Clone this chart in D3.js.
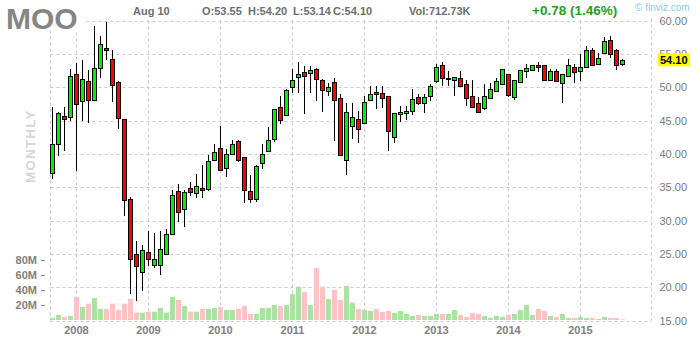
<!DOCTYPE html>
<html>
<head>
<meta charset="utf-8">
<script src="https://cdn.jsdelivr.net/npm/d3@7"></script>
<style>
  body { margin: 0; background: #fff; }
  svg { display: block; font-family: Arial, "Liberation Sans", sans-serif; }
</style>
</head>
<body>
<svg id="chart" width="700" height="340"></svg>
<script>
// ---------------- data (monthly, Sep 2007 .. Aug 2015) ----------------
var months = d3.utcMonth.range(new Date(Date.UTC(2007, 8, 1)), new Date(Date.UTC(2015, 8, 1)));

var open = [37.2, 41.55, 45.75, 45.55, 52.0, 47.95, 50.95, 48.1, 52.9, 55.9,
  54.25, 50.8, 45.25, 33.25, 25.0, 22.3, 25.35, 23.35, 23.35, 25.0,
  28.0, 34.45, 31.75, 34.9, 34.15, 34.9, 34.75, 39.15, 40.9, 37.9,
  40.0, 41.95, 39.5, 34.4, 33.25, 38.65, 40.5, 42.25, 47.0, 45.9,
  50.0, 51.5, 52.25, 52.15, 52.75, 51.1, 49.4, 50.8, 48.4, 39.1,
  44.2, 45.2, 44.65, 48.1, 49.3, 49.15, 48.75, 42.55, 46.05, 46.15,
  46.4, 48.6, 47.65, 48.75, 50.9, 53.35, 51.3, 51.1, 51.4, 50.5,
  48.7, 47.65, 46.9, 48.4, 49.45, 50.5, 52.0, 48.6, 50.8, 52.5,
  52.6, 53.4, 53.35, 51.1, 52.45, 50.6, 51.7, 53.05, 52.45, 53.05,
  55.5, 53.5, 55.15, 57.15, 55.5, 53.55];
var high = [46.95, 46.35, 47.0, 52.75, 53.65, 54.0, 52.65, 59.25, 57.75, 59.7,
  55.6, 50.85, 45.3, 33.5, 26.85, 26.35, 28.5, 28.2, 28.4, 28.75,
  34.6, 35.4, 34.6, 35.85, 37.05, 38.4, 39.85, 41.5, 44.1, 40.8,
  42.1, 42.1, 39.5, 36.9, 38.4, 41.5, 44.0, 46.75, 48.75, 49.8,
  52.75, 53.75, 53.25, 53.25, 52.9, 51.25, 50.65, 51.4, 49.0, 47.65,
  47.65, 46.5, 48.75, 50.15, 50.15, 50.25, 48.75, 46.2, 47.1, 47.1,
  49.65, 49.0, 49.0, 50.5, 53.5, 53.75, 52.5, 51.55, 52.5, 51.0,
  51.0, 48.5, 50.5, 50.65, 51.35, 52.75, 52.0, 51.1, 52.6, 53.5,
  53.35, 53.75, 53.35, 52.75, 52.75, 51.95, 54.25, 53.5, 55.0, 56.25,
  55.9, 55.15, 57.6, 57.75, 55.75, 54.2];
var low = [36.3, 39.75, 40.5, 45.0, 37.5, 45.0, 44.6, 48.0, 51.35, 54.1,
  47.75, 43.75, 30.65, 19.0, 18.0, 19.5, 23.25, 22.85, 21.9, 25.0,
  28.0, 29.75, 29.0, 33.65, 33.35, 33.35, 34.4, 39.0, 37.6, 36.6,
  39.9, 38.75, 32.6, 32.6, 32.75, 37.75, 40.25, 41.75, 44.5, 45.9,
  49.15, 49.15, 46.0, 49.15, 48.0, 46.25, 48.75, 41.9, 39.85, 36.75,
  42.25, 41.6, 44.65, 48.0, 46.75, 46.85, 40.4, 41.6, 44.75, 45.15,
  45.9, 47.4, 46.15, 48.0, 50.65, 50.15, 50.15, 48.75, 50.15, 47.25,
  47.0, 46.35, 46.6, 48.4, 49.45, 50.5, 48.5, 48.1, 50.8, 51.35,
  52.6, 52.25, 51.1, 50.9, 50.75, 47.65, 51.5, 50.6, 50.9, 53.05,
  53.25, 53.5, 55.15, 54.4, 52.6, 53.14];
var close = [41.55, 46.2, 45.25, 51.7, 47.5, 51.25, 48.1, 52.9, 56.5, 55.6,
  50.35, 45.4, 33.1, 24.25, 23.2, 25.5, 24.25, 24.25, 25.75, 28.0,
  33.75, 31.3, 34.3, 34.3, 35.2, 34.6, 39.0, 40.35, 37.6, 40.0,
  41.5, 39.1, 34.6, 33.25, 38.2, 40.0, 42.1, 46.75, 45.1, 49.6,
  51.1, 52.0, 51.65, 52.6, 51.25, 49.6, 50.05, 48.1, 39.85, 46.3,
  45.5, 43.75, 47.75, 49.0, 49.0, 48.4, 43.5, 46.2, 46.35, 46.5,
  48.25, 47.65, 48.6, 50.1, 53.1, 51.4, 51.4, 51.55, 50.15, 48.4,
  47.0, 46.35, 48.7, 49.75, 50.95, 52.75, 48.85, 51.1, 52.6, 52.9,
  53.35, 53.05, 51.1, 52.45, 50.95, 51.95, 53.35, 52.3, 53.05, 55.5,
  53.4, 54.4, 56.85, 55.0, 53.35, 54.1];
// volume in millions of shares
var volume = [3.1, 6.7, 4.4, 5.3, 30.7, 17.3, 21.8, 29.3, 14.7, 14.7,
  21.8, 13.3, 21.8, 28, 9.8, 9.8, 11.1, 11.1, 16, 9.8,
  30.7, 26.7, 18.7, 11.1, 11.1, 14.7, 14.7, 16, 17.3, 13.3,
  13.3, 14.7, 18.7, 8, 8, 16, 16, 20, 18.7, 20,
  34.7, 44.4, 37.3, 20, 69.3, 44.4, 28, 40, 26.7, 45.3,
  23.1, 14.7, 13.3, 12, 14.7, 10.7, 12, 9.3, 12, 8,
  5.3, 6.7, 5.3, 5.3, 8, 8, 8, 13.3, 6.7, 4,
  9.3, 8, 5.3, 2.7, 5.3, 4, 6.7, 8, 13.3, 20,
  6.7, 14.7, 12, 5.3, 4, 8, 2.7, 2.7, 4, 2.7,
  2.7, 1.3, 4, 2.7, 2.7, 0.71];

var priceTicks = [15, 20, 25, 30, 35, 40, 45, 50, 55, 60];
var volumeTicks = [20, 40, 60, 80];
var yearLabels = ["2008", "2009", "2010", "2011", "2012", "2013", "2014", "2015"];

var ticker = "MOO";
var lastDate = "Aug 10";
var lastQuote = {O: "53.55", H: "54.20", L: "53.14", C: "54.10"};
var lastVol = "712.73K";
var lastChange = "+0.78 (1.46%)";

var candles = months.map(function(m, i) {
  return {date: m, o: open[i], h: high[i], l: low[i], c: close[i], v: volume[i]};
});

// ---------------- layout ----------------
var svg = d3.select("#chart");
var plotLeft = 50.5, plotRight = 651.5, plotTop = 20.5, plotBottom = 320.5;
var gridColor = "#c8c8c8";

var x = d3.scaleBand()
  .domain(months.map(function(m) { return +m; }))
  .range([49.5, 625.5])
  .padding(0);
function cx(d) { return x(+d) + x.bandwidth() / 2; }

var y = d3.scaleLinear().domain([15, 60]).range([plotBottom, plotTop]);
var yVol = d3.scaleLinear().domain([0, 80]).range([320, 260]);

// ---------------- grid ----------------
var grid = svg.append("g").attr("class", "grid");

grid.selectAll("line.h")
  .data(priceTicks)
  .enter().append("line")
    .attr("class", "h")
    .attr("x1", plotLeft).attr("x2", plotRight)
    .attr("y1", function(d) { return Math.round(y(d)) + 0.5; })
    .attr("y2", function(d) { return Math.round(y(d)) + 0.5; })
    .style("stroke", gridColor)
    .style("stroke-dasharray", "3,3");

var januaries = yearLabels.map(function(yr) { return new Date(Date.UTC(+yr, 0, 1)); });

grid.selectAll("line.v")
  .data(januaries)
  .enter().append("line")
    .attr("class", "v")
    .attr("x1", cx).attr("x2", cx)
    .attr("y1", plotTop).attr("y2", plotBottom)
    .style("stroke", gridColor)
    .style("stroke-dasharray", "3,3");

[plotLeft, plotRight].forEach(function(xx) {
  grid.append("line")
    .attr("x1", xx).attr("x2", xx)
    .attr("y1", plotTop - 2).attr("y2", plotBottom)
    .style("stroke", gridColor)
    .style("stroke-dasharray", "3,3");
});

// ---------------- volume bars ----------------
svg.append("g").selectAll("rect")
  .data(candles)
  .enter().append("rect")
    .attr("x", function(d) { return cx(d.date) - 2.5; })
    .attr("width", 5)
    .attr("y", function(d) { return yVol(d.v); })
    .attr("height", function(d) { return yVol(0) - yVol(d.v); })
    .style("fill", function(d) { return d.c >= d.o ? "#aae2a2" : "#ffc2c2"; });

// ---------------- candles ----------------
var cg = svg.append("g").attr("class", "candles");

cg.selectAll("line")
  .data(candles)
  .enter().append("line")
    .attr("x1", function(d) { return cx(d.date); })
    .attr("x2", function(d) { return cx(d.date); })
    .attr("y1", function(d) { return Math.round(y(d.h)); })
    .attr("y2", function(d) { return Math.round(y(d.l)); })
    .style("stroke", "#000")
    .style("stroke-width", 1);

cg.selectAll("rect")
  .data(candles)
  .enter().append("rect")
    .attr("x", function(d) { return cx(d.date) - 2; })
    .attr("width", 4)
    .attr("y", function(d) { return Math.round(y(Math.max(d.o, d.c))) + 0.5; })
    .attr("height", function(d) {
      return Math.max(1, Math.round(y(Math.min(d.o, d.c))) - Math.round(y(Math.max(d.o, d.c))));
    })
    .style("fill", function(d) { return d.c >= d.o ? "#00ee00" : "#ff0000"; })
    .style("stroke", "#000")
    .style("stroke-width", 1);

// ---------------- axes ----------------
var priceAxis = svg.append("g")
  .attr("transform", "translate(" + plotRight + ",0)")
  .call(d3.axisRight(y).tickValues(priceTicks).tickFormat(d3.format(".2f")).tickSize(0).tickPadding(8));
priceAxis.select(".domain").remove();
priceAxis.selectAll("text")
  .style("font-size", "11px")
  .style("font-family", "Arial, 'Liberation Sans', sans-serif")
  .style("fill", "#7a7a7a");

var volAxis = svg.append("g")
  .attr("transform", "translate(45,0)")
  .call(d3.axisLeft(yVol).tickValues(volumeTicks).tickFormat(function(d) { return d + "M"; }).tickSize(4).tickPadding(4));
volAxis.select(".domain").remove();
volAxis.selectAll("line").style("stroke", "#888");
volAxis.selectAll("text")
  .style("font-size", "11px")
  .style("font-weight", "bold")
  .style("font-family", "Arial, 'Liberation Sans', sans-serif")
  .style("fill", "#808080");

svg.append("g").selectAll("text")
  .data(januaries)
  .enter().append("text")
    .attr("x", cx)
    .attr("y", 334)
    .attr("text-anchor", "middle")
    .style("font-size", "11px")
    .style("font-weight", "bold")
    .style("fill", "#808080")
    .text(function(d, i) { return yearLabels[i]; });

// last price tag
var lastY = y(close[close.length - 1]);
svg.append("rect")
  .attr("x", 658).attr("y", lastY - 6.5)
  .attr("width", 32).attr("height", 13)
  .style("fill", "#ffff00");
svg.append("text")
  .attr("x", 660).attr("y", lastY + 4)
  .style("font-size", "11px")
  .style("font-weight", "bold")
  .style("fill", "#000")
  .text(d3.format(".2f")(close[close.length - 1]));

// ---------------- header ----------------
svg.append("rect")
  .attr("x", 0).attr("y", 0).attr("width", 86).attr("height", 30)
  .style("fill", "#fff");

svg.append("text")
  .attr("x", 6).attr("y", 28.5)
  .style("font-size", "30px")
  .style("font-weight", "bold")
  .style("fill", "#858585")
  .text(ticker);

function headerText(xx, txt) {
  svg.append("text")
    .attr("x", xx).attr("y", 15)
    .style("font-size", "11px")
    .style("font-weight", "bold")
    .style("fill", "#6e6e6e")
    .text(txt);
}
headerText(133, lastDate);
headerText(202, "O:" + lastQuote.O);
headerText(248, "H:" + lastQuote.H);
headerText(293, "L:" + lastQuote.L);
headerText(333, "C:" + lastQuote.C);
headerText(409, "Vol:" + lastVol);

svg.append("text")
  .attr("x", 532).attr("y", 15)
  .style("font-size", "13.5px")
  .style("font-weight", "bold")
  .style("fill", "#1f9e1f")
  .text(lastChange);

svg.append("text")
  .attr("x", 635).attr("y", 11)
  .style("font-size", "10px")
  .style("fill", "#8cc6f0")
  .text("\u00a9 finviz.com");

svg.append("text")
  .attr("transform", "translate(35,146) rotate(-90)")
  .attr("text-anchor", "middle")
  .style("font-size", "13px")
  .style("font-weight", "bold")
  .style("letter-spacing", "1.5px")
  .style("fill", "#d6d6d6")
  .text("MONTHLY");
</script>
</body>
</html>
